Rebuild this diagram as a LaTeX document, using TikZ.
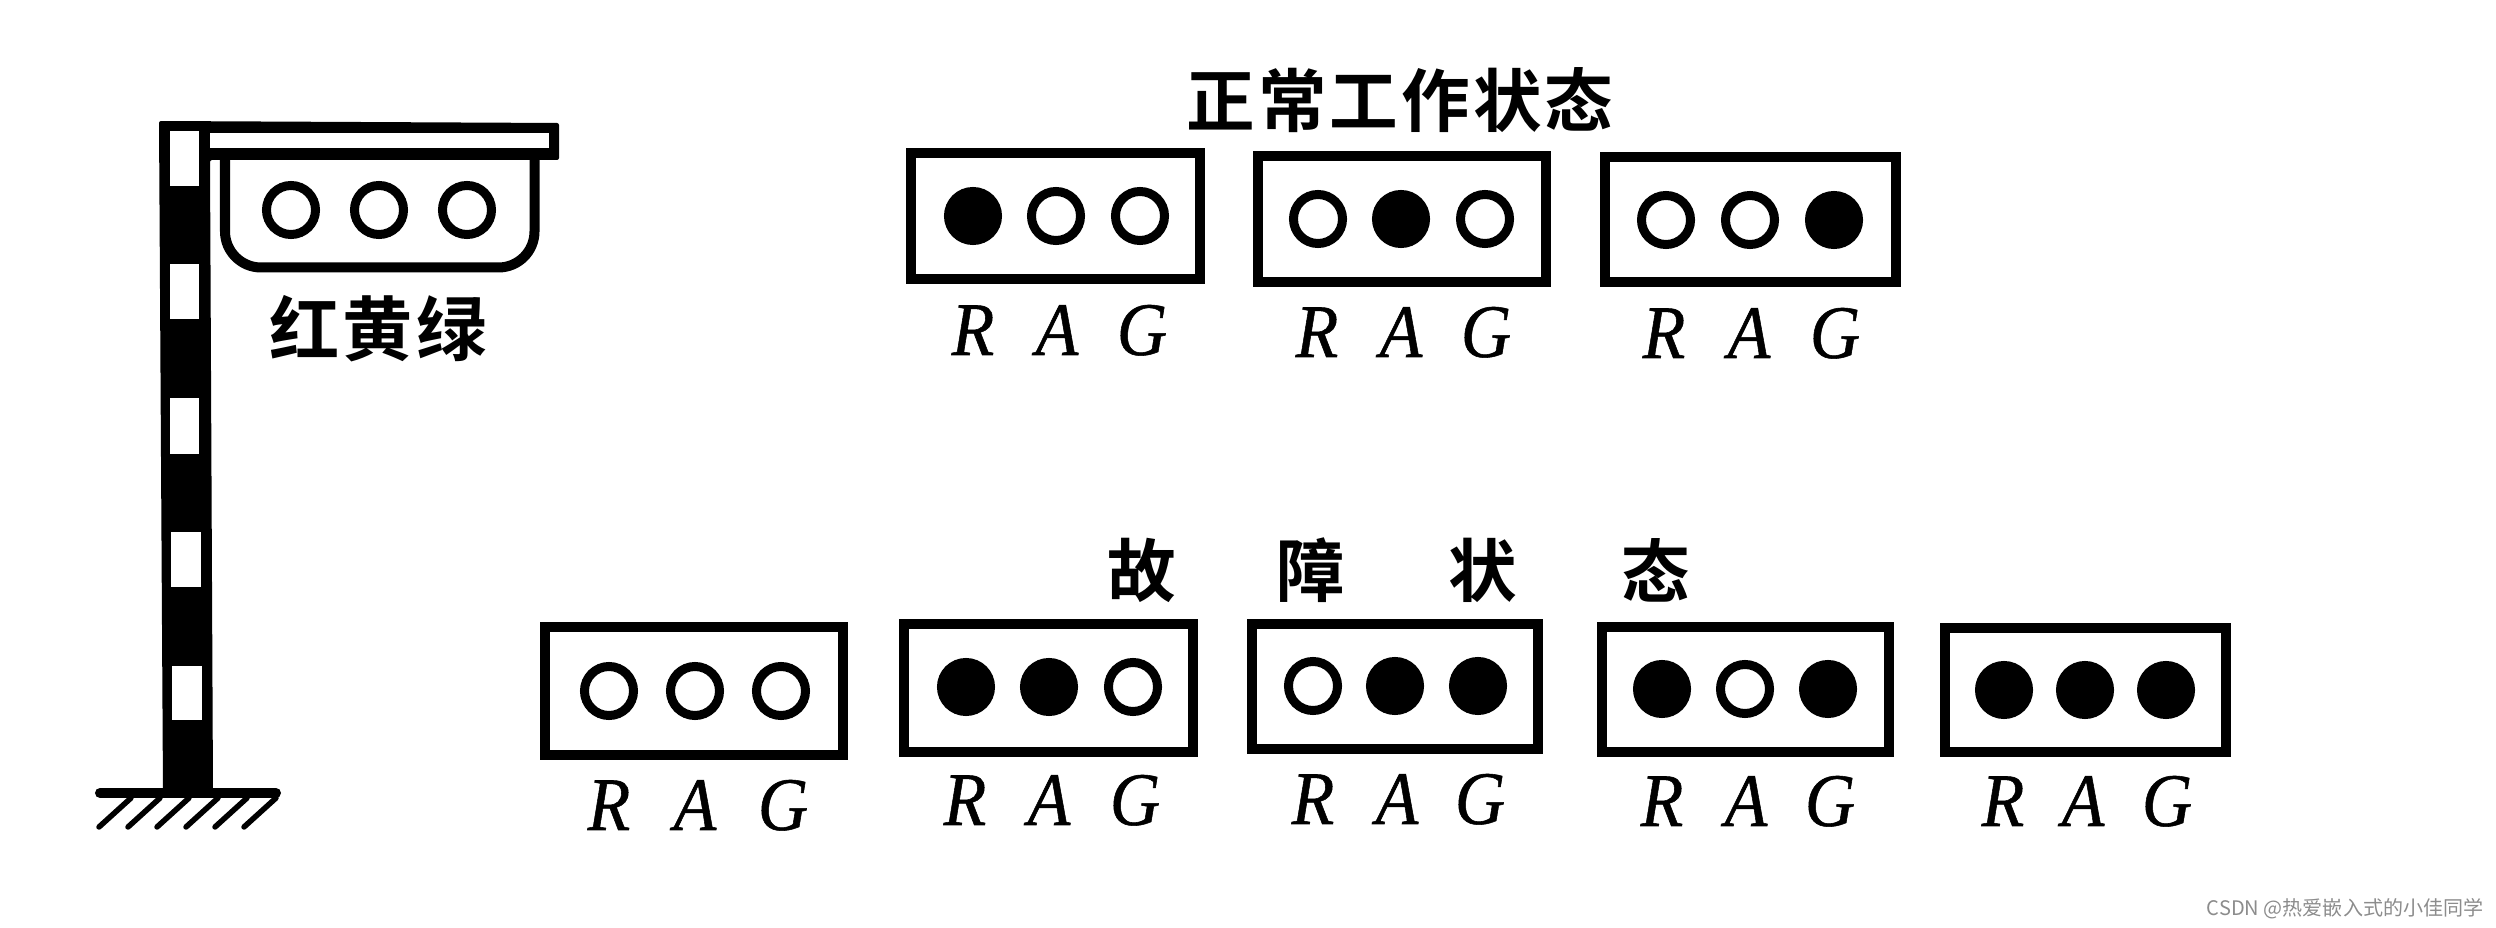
\documentclass[tikz,border=0pt]{standalone}
\usepackage{fontspec}
\setmainfont{Liberation Serif}
\newfontfamily\cjkbold{Noto Sans CJK SC Bold}
\newfontfamily\cjkfont{Noto Sans CJK SC}
\newfontfamily\ragfam[FakeBold=0.7,FakeStretch=0.92]{Liberation Serif Italic}
\newcommand{\ragfont}{\ragfam\fontsize{21.5}{24}\selectfont}
\tikzset{
  panel/.style={draw=black,line width=0.105cm,fill=white,inner sep=0pt,rectangle,minimum width=#1},
  lampoff/.style={circle,draw=black,line width=0.09cm,fill=white,minimum size=0.49cm,inner sep=0pt},
  lampon/.style={lampoff,fill=black},
  ragletter/.style={anchor=base,inner sep=0pt,font=\ragfont},
  titlechar/.style={inner sep=0pt,font=\cjkbold\fontsize{19.5}{22}\selectfont},
  poleblock/.style={fill=white,draw=none},
  polebody/.style={fill=black,draw=none},
  hatch/.style={line width=0.055cm,line cap=round},
}
\begin{document}
\begin{tikzpicture}[x=0.01cm,y=-0.01cm]
\useasboundingbox (0,0) rectangle (2496,928);
% signal post
\draw[line width=0.1cm,rounded corners=0.36cm] (225,150) -- (225,267.5) -- (534.5,267.5) -- (534.5,150);
\fill[polebody,rounded corners=0.02cm] (159,121) -- (559,123) -- (559,160) -- (210,160) -- (213,793) -- (163,793) -- cycle;
\fill[poleblock] (210,133) rectangle (549,148);
\fill[poleblock] (170,131) rectangle (199,186);
\fill[poleblock] (170,264) rectangle (199,319);
\fill[poleblock] (170,398) rectangle (199,454);
\fill[poleblock] (171,532) rectangle (201,587);
\fill[poleblock] (172,666) rectangle (202,720);
\draw[line width=0.1cm,line cap=round] (100,793) -- (276,793);
\foreach \hx in {99,128,157,186,215,244}
  \draw[hatch] (\hx,827) -- ({\hx+32},798);
\node[lampoff] (post1) at (291,210) {};
\node[lampoff] (post2) at (379,210) {};
\node[lampoff] (post3) at (467,210) {};
\node[inner sep=0pt,font=\cjkbold\fontsize{20}{22}\selectfont] (postlabel) at (378,329) {红\hspace{0.03cm}黄\hspace{0.03cm}绿};
% normal state
\node[inner sep=0pt,font=\cjkbold\fontsize{19.5}{22}\selectfont] (normaltitle) at (1400,100) {正\hspace{0.03cm}常\hspace{0.03cm}工\hspace{0.03cm}作\hspace{0.03cm}状\hspace{0.03cm}态};
\node[panel=2.89cm,minimum height=1.26cm] (n1) at (1055.5,216) {};
\node[lampon] (n1r) at (973,216) {};
\node[lampoff] (n1a) at (1056,216) {};
\node[lampoff] (n1g) at (1140,216) {};
\node[ragletter] at (973,355) {R};
\node[ragletter] at (1057,355) {A};
\node[ragletter] at (1142,355) {G};
\node[panel=2.88cm,minimum height=1.26cm] (n2) at (1402,219) {};
\node[lampoff] (n2r) at (1318,219) {};
\node[lampon] (n2a) at (1401,219) {};
\node[lampoff] (n2g) at (1485,219) {};
\node[ragletter] at (1317,357) {R};
\node[ragletter] at (1401,357) {A};
\node[ragletter] at (1486,357) {G};
\node[panel=2.91cm,minimum height=1.25cm] (n3) at (1750.5,219.5) {};
\node[lampoff] (n3r) at (1666,220) {};
\node[lampoff] (n3a) at (1750,220) {};
\node[lampon] (n3g) at (1834,220) {};
\node[ragletter] at (1664,358) {R};
\node[ragletter] at (1749,358) {A};
\node[ragletter] at (1835,358) {G};
% fault state
\node[titlechar] (fault1) at (1142,570) {故};
\node[titlechar] (fault2) at (1311,570) {障};
\node[titlechar] (fault3) at (1483,570) {状};
\node[titlechar] (fault4) at (1656,570) {态};
\node[panel=2.98cm,minimum height=1.28cm] (f1) at (694,691) {};
\node[lampoff] (f1r) at (609,691) {};
\node[lampoff] (f1a) at (695,691) {};
\node[lampoff] (f1g) at (781,691) {};
\node[ragletter] at (609,830) {R};
\node[ragletter] at (695,830) {A};
\node[ragletter] at (783,830) {G};
\node[panel=2.89cm,minimum height=1.28cm] (f2) at (1048.5,688) {};
\node[lampon] (f2r) at (966,687) {};
\node[lampon] (f2a) at (1049,687) {};
\node[lampoff] (f2g) at (1133,687) {};
\node[ragletter] at (965,825) {R};
\node[ragletter] at (1049,825) {A};
\node[ragletter] at (1135,825) {G};
\node[panel=2.86cm,minimum height=1.25cm] (f3) at (1395,686.5) {};
\node[lampoff] (f3r) at (1313,686) {};
\node[lampon] (f3a) at (1395,686) {};
\node[lampon] (f3g) at (1478,686) {};
\node[ragletter] at (1313,824) {R};
\node[ragletter] at (1397,824) {A};
\node[ragletter] at (1480,824) {G};
\node[panel=2.87cm,minimum height=1.25cm] (f4) at (1745.5,689.5) {};
\node[lampon] (f4r) at (1662,689) {};
\node[lampoff] (f4a) at (1745,689) {};
\node[lampon] (f4g) at (1828,689) {};
\node[ragletter] at (1662,826) {R};
\node[ragletter] at (1746,826) {A};
\node[ragletter] at (1830,826) {G};
\node[panel=2.81cm,minimum height=1.24cm] (f5) at (2085.5,690) {};
\node[lampon] (f5r) at (2004,690) {};
\node[lampon] (f5a) at (2085,690) {};
\node[lampon] (f5g) at (2166,690) {};
\node[ragletter] at (2003,826) {R};
\node[ragletter] at (2083,826) {A};
\node[ragletter] at (2167,826) {G};
% watermark
\node[anchor=east,inner sep=0pt,text=black!45,font=\cjkfont\fontsize{5.7}{7}\selectfont] (mark) at (2484,909) {CSDN @热爱嵌入式的小佳同学};
\end{tikzpicture}
\end{document}
